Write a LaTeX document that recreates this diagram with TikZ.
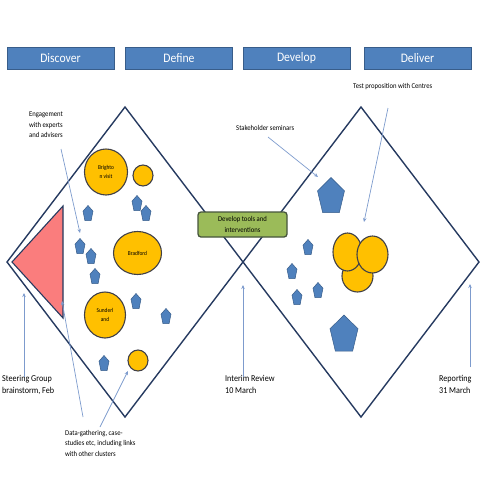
\documentclass[tikz,border=0pt]{standalone}
\usepackage{fontspec}
\setmainfont{Carlito}[FakeStretch=0.9]
\usetikzlibrary{shapes.geometric}
\usetikzlibrary{arrows.meta}
\definecolor{hdrblue}{RGB}{79,129,189}
\definecolor{hdredge}{RGB}{56,93,138}
\definecolor{navyline}{RGB}{38,58,96}
\definecolor{goldfill}{RGB}{255,192,0}
\definecolor{discedge}{RGB}{64,64,72}
\definecolor{leafgreen}{RGB}{155,187,89}
\definecolor{leafedge}{RGB}{70,85,60}
\definecolor{salmon}{RGB}{250,125,125}
\definecolor{pointer}{RGB}{125,155,205}
\tikzset{
  phase/.style={draw=hdredge, fill=hdrblue, line width=0.8pt, text=white,
      minimum width=107pt, minimum height=22pt, inner sep=0pt,
      font=\fontsize{13}{15}\selectfont},
  diamondline/.style={draw=navyline, line width=1.4pt, line join=miter},
  golddisc/.style={ellipse, draw=discedge, fill=goldfill, line width=1.1pt,
      inner sep=0pt, align=center, font=\fontsize{6}{8.5}\selectfont},
  pent/.style={draw=hdredge, fill=hdrblue, line width=0.5pt},
  note/.style={inner sep=0pt, align=left, font=\fontsize{7.4}{10.5}\selectfont},
  milestone/.style={inner sep=0pt, align=left, font=\fontsize{9}{12.5}\selectfont},
  pointto/.style={draw=pointer, line width=0.7pt, -{Stealth[length=4pt,width=3.5pt]}},
}
% pentagon: centre x, centre y, width, height
\newcommand\bluepent[4]{%
  \filldraw[pent] (#1,#2) ++(0,{-0.5*#4}) -- ++({0.5*#3},{0.382*#4})
    -- ++({-0.191*#3},{0.618*#4}) -- ++({-0.618*#3},0)
    -- ++({-0.191*#3},{-0.618*#4}) -- cycle;}

\begin{document}
\begin{tikzpicture}[x=1pt, y=-1pt]
    \useasboundingbox (0,0) rectangle (480,480);

    % phase headers
    \node [phase] (discover) at (60.5,58) {Discover};
    \node [phase] (define) at (179,58) {Define};
    \node [phase] (develop) at (296.5,58) {Develop};
    \node [phase] (deliver) at (417.5,58) {Deliver};

    % the two diamonds
    \draw [diamondline] (125,107) -- (243,262) -- (125,417) -- (7,262) -- cycle;
    \draw [diamondline] (361,107) -- (479,262) -- (361,417) -- (243,262) -- cycle;

    \filldraw [fill=salmon, draw=navyline, line width=1.1pt]
      (63,206) -- (12,262) -- (63,318) -- cycle;

    % first diamond
    \node [golddisc, minimum width=43pt, minimum height=46pt] (brighton)
      at (106,172) {Brighto\\n visit};
    \node [golddisc, minimum width=20pt, minimum height=21pt] (spotA) at (143,175.5) {};
    \node [golddisc, minimum width=48pt, minimum height=43pt] (bradford)
      at (137.5,253) {Bradford};
    \node [golddisc, minimum width=41pt, minimum height=46pt] (sunderland)
      at (105,315) {Sunderl\\and};
    \node [golddisc, minimum width=20pt, minimum height=21pt] (spotB) at (138,360.5) {};

    \bluepent{88}{213}{10}{15}
    \bluepent{137}{203}{10}{15}
    \bluepent{146}{213}{10}{15}
    \bluepent{80}{246}{10}{15}
    \bluepent{91}{256}{10}{15}
    \bluepent{95}{276}{10}{15}
    \bluepent{136}{301}{10}{15}
    \bluepent{166}{316}{10}{15}
    \bluepent{104}{363}{10}{15}

    % second diamond
    \bluepent{331}{195}{27}{35}
    \bluepent{344}{333}{28}{36}
    \bluepent{308}{247}{10}{15}
    \bluepent{292}{271}{10}{15}
    \bluepent{318}{290}{10}{15}
    \bluepent{297}{297}{10}{15}
    \node [golddisc, minimum width=31pt, minimum height=32pt] (centreC) at (357.5,276) {};
    \node [golddisc, minimum width=29pt, minimum height=38pt] (centreA) at (347.5,252) {};
    \node [golddisc, minimum width=31pt, minimum height=37pt] (centreB) at (372.5,254.5) {};

    \node [draw=leafedge, fill=leafgreen, line width=1.3pt, rounded corners=3pt,
      minimum width=89pt, minimum height=25pt, inner sep=0pt, align=center,
      font=\fontsize{7.4}{11}\selectfont] (tools) at (242.5,224.5)
      {Develop tools and\\interventions};

    % notes
    \node [note, anchor=north west] (engage) at (29,112)
      {Engagement\\with experts\\and advisers};
    \node [note, anchor=north west] (datagather) at (65,430)
      {Data-gathering, case-\\studies etc, including links\\with other clusters};
    \node [note, anchor=west] (seminars) at (236,128) {Stakeholder seminars};
    \node [note, anchor=west] (testprop) at (353,87) {Test proposition with Centres};
    \node [milestone, anchor=north west] (steering) at (2,375)
      {Steering Group\\brainstorm, Feb};
    \node [milestone, anchor=north west] (interim) at (225,375)
      {Interim Review\\10 March};
    \node [milestone, anchor=north west] (reporting) at (439,375)
      {Reporting\\31 March};

    % pointers
    \coordinate (engage from) at (61,149);
    \coordinate (engage to) at (80,233);
    \coordinate (steer from) at (24,377);
    \coordinate (steer to) at (24,293);
    \coordinate (data from) at (100,427);
    \coordinate (data to) at (128,371);
    \coordinate (link from) at (83,417);
    \coordinate (link to) at (62,301);
    \coordinate (seminar from) at (268,137);
    \coordinate (seminar to) at (318,177);
    \coordinate (test from) at (388,108);
    \coordinate (test to) at (364,222);
    \coordinate (interim from) at (243,377);
    \coordinate (interim to) at (243,285);
    \coordinate (report from) at (470,367);
    \coordinate (report to) at (470,284);
    \draw [pointto] (engage from) -- (engage to);
    \draw [pointto] (steer from) -- (steer to);
    \draw [pointto] (data from) -- (data to);
    \draw [pointto] (link from) -- (link to);
    \draw [pointto] (seminar from) -- (seminar to);
    \draw [pointto] (test from) -- (test to);
    \draw [pointto] (interim from) -- (interim to);
    \draw [pointto] (report from) -- (report to);
  \end{tikzpicture}
\end{document}
